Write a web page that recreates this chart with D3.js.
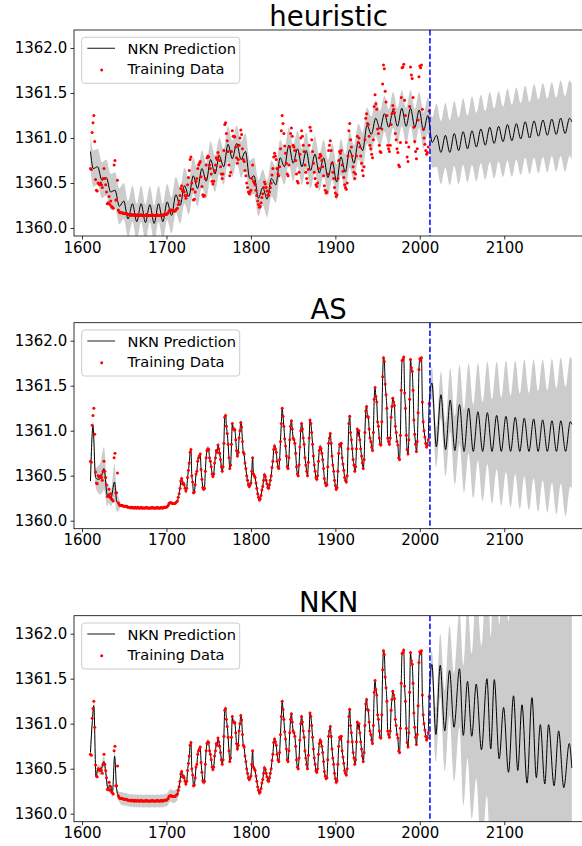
<!DOCTYPE html>
<html lang="en">
<head>
  <meta charset="utf-8">
  <title>solar irradiance: heuristic / AS / NKN</title>
  <script type="text/javascript" src="https://cdnjs.cloudflare.com/ajax/libs/d3/7.8.5/d3.min.js"></script>
  <style>
    body {
      margin: 0px;
      background: #ffffff;
    }
    svg {
      display: block;
    }
  </style>
</head>
<body>
  <script type="text/javascript">
    // training data: one value per year, starting at firstYear
    var firstYear = 1610;
    var tsi = [
      1360.66, 1360.65, 1361.06, 1361.17, 1361.25, 1360.96, 1360.54, 1360.42, 1360.41, 1360.50,
      1360.49, 1360.48, 1360.50, 1360.48, 1360.45, 1360.55, 1360.66, 1360.55, 1360.48, 1360.40,
      1360.27, 1360.28, 1360.35, 1360.26, 1360.30, 1360.24, 1360.23, 1360.22, 1360.70, 1360.75,
      1360.31, 1360.31, 1360.53, 1360.20, 1360.18, 1360.17, 1360.17, 1360.17, 1360.17, 1360.16,
      1360.16, 1360.16, 1360.16, 1360.16, 1360.15, 1360.15, 1360.15, 1360.15, 1360.14, 1360.15,
      1360.15, 1360.14, 1360.14, 1360.15, 1360.14, 1360.14, 1360.15, 1360.14, 1360.14, 1360.14,
      1360.15, 1360.14, 1360.14, 1360.14, 1360.14, 1360.14, 1360.15, 1360.14, 1360.14, 1360.14,
      1360.14, 1360.14, 1360.14, 1360.15, 1360.14, 1360.14, 1360.14, 1360.14, 1360.14, 1360.15,
      1360.14, 1360.14, 1360.14, 1360.14, 1360.15, 1360.14, 1360.14, 1360.15, 1360.15, 1360.15,
      1360.15, 1360.16, 1360.17, 1360.19, 1360.20, 1360.20, 1360.20, 1360.19, 1360.19, 1360.19,
      1360.19, 1360.20, 1360.21, 1360.22, 1360.26, 1360.30, 1360.36, 1360.44, 1360.47, 1360.41,
      1360.42, 1360.40, 1360.36, 1360.33, 1360.36, 1360.48, 1360.56, 1360.64, 1360.76, 1360.79,
      1360.50, 1360.43, 1360.31, 1360.32, 1360.40, 1360.52, 1360.55, 1360.66, 1360.70, 1360.72,
      1360.74, 1360.57, 1360.46, 1360.37, 1360.35, 1360.36, 1360.55, 1360.70, 1360.78, 1360.80,
      1360.79, 1360.70, 1360.66, 1360.60, 1360.52, 1360.49, 1360.52, 1360.64, 1360.70, 1360.78,
      1360.76, 1360.84, 1360.80, 1360.75, 1360.68, 1360.60, 1360.55, 1360.60, 1360.86, 1361.15,
      1361.17, 1361.05, 1360.97, 1360.85, 1360.70, 1360.58, 1360.62, 1360.85, 1361.08, 1361.02,
      1361.02, 1361.01, 1360.90, 1360.78, 1360.72, 1360.76, 1360.92, 1361.00, 1361.09, 1361.04,
      1360.88, 1360.76, 1360.74, 1360.64, 1360.58, 1360.50, 1360.45, 1360.40, 1360.38, 1360.40,
      1360.42, 1360.55, 1360.70, 1360.52, 1360.50, 1360.48, 1360.42, 1360.36, 1360.30, 1360.26,
      1360.23, 1360.24, 1360.28, 1360.34, 1360.38, 1360.45, 1360.51, 1360.49, 1360.45, 1360.41,
      1360.37, 1360.36, 1360.40, 1360.45, 1360.50, 1360.59, 1360.66, 1360.79, 1360.83, 1360.80,
      1360.76, 1360.66, 1360.60, 1360.58, 1360.68, 1360.88, 1361.08, 1361.25, 1361.16, 1361.05,
      1360.91, 1360.83, 1360.72, 1360.60, 1360.58, 1360.70, 1360.90, 1361.05, 1361.11, 1361.02,
      1360.92, 1360.90, 1360.86, 1360.75, 1360.60, 1360.52, 1360.50, 1360.62, 1360.82, 1361.00,
      1361.08, 1361.02, 1360.92, 1360.85, 1360.70, 1360.62, 1360.55, 1360.50, 1360.65, 1360.92,
      1361.12, 1361.08, 1360.98, 1360.85, 1360.72, 1360.62, 1360.55, 1360.48, 1360.46, 1360.50,
      1360.66, 1360.78, 1360.82, 1360.80, 1360.75, 1360.68, 1360.58, 1360.47, 1360.42, 1360.39,
      1360.40, 1360.60, 1360.86, 1360.92, 1360.97, 1360.86, 1360.72, 1360.62, 1360.55, 1360.45,
      1360.39, 1360.35, 1360.37, 1360.55, 1360.75, 1360.85, 1360.83, 1360.86, 1360.70, 1360.63,
      1360.56, 1360.48, 1360.45, 1360.43, 1360.50, 1360.80, 1361.08, 1361.16, 1360.98, 1360.90,
      1360.80, 1360.68, 1360.62, 1360.55, 1360.60, 1360.80, 1361.02, 1360.95, 1361.00, 1360.90,
      1360.80, 1360.72, 1360.64, 1360.58, 1360.68, 1360.98, 1361.22, 1361.27, 1361.16, 1361.15,
      1361.02, 1360.92, 1360.88, 1360.82, 1360.78, 1360.98, 1361.35, 1361.48, 1361.38, 1361.32,
      1361.10, 1361.05, 1360.92, 1360.85, 1360.84, 1361.10, 1361.60, 1361.81, 1361.77, 1361.52,
      1361.40, 1361.25, 1360.92, 1360.88, 1360.85, 1360.92, 1361.15, 1361.27, 1361.36, 1361.32,
      1361.28, 1361.05, 1360.98, 1360.88, 1360.84, 1360.70, 1360.68, 1360.95, 1361.45, 1361.78,
      1361.79, 1361.82, 1361.42, 1361.25, 1360.95, 1360.79, 1360.74, 1360.90, 1361.35, 1361.79,
      1361.70, 1361.66, 1361.45, 1361.12, 1360.96, 1360.85, 1360.77, 1360.88, 1361.20, 1361.68,
      1361.80, 1361.78, 1361.81, 1361.32, 1361.10, 1361.00, 1360.93, 1360.86, 1360.82, 1360.84,
      1360.90, 1361.30
    ];
    var years = d3.range(firstYear, firstYear + tsi.length);
    var trainEnd = 2012;

    var titles = ["heuristic", "AS", "NKN"];
    var legendLabels = ["NKN Prediction", "Training Data"];
    var xTicks = [1600, 1700, 1800, 1900, 2000, 2100];
    var yTicks = [1360.0, 1360.5, 1361.0, 1361.5, 1362.0];

    // heuristic kernel: peaks and troughs of the predicted mean, band = half width
    var heurYears = [1610, 1613.4, 1618.5, 1623.6, 1628.8, 1633.9, 1639.1, 1644.2, 1649.4, 1654.5,
      1659.7, 1664.8, 1670, 1675.1, 1680.3, 1685.4, 1690.6, 1695.7, 1700.8, 1706,
      1711.1, 1716.2, 1721.4, 1726.5, 1731.7, 1736.8, 1742, 1747.1, 1752.3, 1757.4,
      1762.6, 1767.7, 1772.9, 1778, 1783.2, 1788.3, 1793.5, 1798.6, 1803.7, 1808.9,
      1814, 1819.2, 1824.3, 1829.5, 1834.6, 1839.7, 1844.9, 1850, 1855.2, 1860.3,
      1865.5, 1870.6, 1875.8, 1880.9, 1886.1, 1891.2, 1896.4, 1901.5, 1906.6, 1911.8,
      1916.9, 1922, 1927.2, 1932.3, 1937.5, 1942.6, 1947.8, 1952.9, 1958.1, 1963.2,
      1968.4, 1973.5, 1978.7, 1983.8, 1989, 1994.1, 1999.3, 2004.4, 2009.5, 2014.7,
      2019.8, 2025, 2030.3, 2035.5, 2040.8, 2046, 2051.3, 2056.5, 2061.8, 2067,
      2072.3, 2077.5, 2082.8, 2088, 2093.3, 2098.5, 2103.8, 2109, 2114.3, 2119.5,
      2124.8, 2130, 2135.3, 2140.5, 2145.8, 2151, 2156.3, 2161.5, 2166.8, 2172,
      2177.3, 2180];
    var heurMean = [1360.85, 1360.66, 1360.68, 1360.53, 1360.56, 1360.40, 1360.42, 1360.24, 1360.30, 1360.10,
      1360.27, 1360.07, 1360.27, 1360.06, 1360.26, 1360.05, 1360.27, 1360.07, 1360.29, 1360.14,
      1360.37, 1360.25, 1360.47, 1360.35, 1360.58, 1360.44, 1360.66, 1360.52, 1360.76, 1360.60,
      1360.80, 1360.68, 1360.93, 1360.77, 1360.94, 1360.76, 1360.85, 1360.55, 1360.58, 1360.33,
      1360.45, 1360.32, 1360.55, 1360.48, 1360.78, 1360.68, 1360.92, 1360.72, 1360.88, 1360.68,
      1360.86, 1360.64, 1360.82, 1360.61, 1360.78, 1360.56, 1360.74, 1360.51, 1360.79, 1360.62,
      1360.87, 1360.72, 1360.96, 1360.86, 1361.14, 1361.04, 1361.22, 1361.10, 1361.27, 1361.12,
      1361.31, 1361.13, 1361.33, 1361.13, 1361.33, 1361.12, 1361.31, 1361.08, 1361.25, 1360.95,
      1361.03, 1360.84, 1361.03, 1360.84, 1361.05, 1360.86, 1361.07, 1360.88, 1361.08, 1360.90,
      1361.10, 1360.92, 1361.12, 1360.94, 1361.13, 1360.96, 1361.15, 1360.97, 1361.16, 1360.99,
      1361.18, 1361.00, 1361.19, 1361.02, 1361.20, 1361.03, 1361.21, 1361.04, 1361.22, 1361.05,
      1361.22, 1361.18];
    var heurTrainBand = 0.2;
    var heurForeBand = [0.28,
      0.35, 0.35, 0.36, 0.36, 0.36, 0.37, 0.37, 0.37, 0.38, 0.38,
      0.38, 0.38, 0.39, 0.39, 0.39, 0.39, 0.40, 0.40, 0.40, 0.40,
      0.40, 0.40, 0.41, 0.41, 0.41, 0.41, 0.41, 0.41, 0.42, 0.42,
      0.42, 0.42];

    // AS and NKN follow the data; before 1646 their fit is smoother than the data
    var eraYears = [1646, 1716];
    var asEraBand = [0.012, 0.035];
    var nknEraBand = [0.07, 0.035];

    var asEarlyYears = [1610, 1613, 1616, 1619, 1622, 1626, 1630, 1632, 1634, 1638.5, 1641, 1644];
    var asEarlyMean = [1360.44, 1361.05, 1360.48, 1360.46, 1360.47, 1360.58, 1360.28, 1360.30, 1360.24, 1360.43, 1360.22, 1360.18];
    var asEarlyBand = [0.12, 0.06, 0.10, 0.15, 0.18, 0.24, 0.12, 0.10, 0.08, 0.20, 0.12, 0.06];

    var asForeYears = [2014.3, 2019.6, 2025, 2030.5, 2036, 2041.5, 2047, 2052.4, 2057.8, 2063.3,
      2068.8, 2074.4, 2080, 2085.5, 2091, 2096.5, 2102, 2107.5, 2113, 2118.4,
      2123.7, 2129.2, 2134.8, 2140.1, 2145.5, 2151, 2156.5, 2161.8, 2167, 2172.6,
      2178.2, 2180];
    var asForeMean = [1361.53, 1360.82, 1361.40, 1360.79, 1361.34, 1360.78, 1361.29, 1360.77, 1361.25, 1360.77,
      1361.21, 1360.77, 1361.20, 1360.77, 1361.17, 1360.77, 1361.16, 1360.77, 1361.15, 1360.77,
      1361.14, 1360.77, 1361.13, 1360.77, 1361.12, 1360.77, 1361.11, 1360.77, 1361.11, 1360.77,
      1361.10, 1361.07];
    var asForeBand = [0.18, 0.22, 0.26, 0.30, 0.35, 0.38, 0.44, 0.46, 0.50, 0.52,
      0.54, 0.55, 0.57, 0.58, 0.60, 0.60, 0.62, 0.62, 0.63, 0.64,
      0.65, 0.65, 0.66, 0.67, 0.67, 0.68, 0.69, 0.70, 0.70, 0.72,
      0.72, 0.72];

    var nknEarlyYears = [1610, 1612, 1614, 1616.5, 1619, 1622, 1626, 1628, 1630.6, 1633, 1636, 1638.6, 1641, 1643, 1645];
    var nknEarlyMean = [1360.68, 1361.00, 1361.20, 1360.42, 1360.50, 1360.48, 1360.58, 1360.47, 1360.28, 1360.32,
      1360.23, 1360.64, 1360.27, 1360.20, 1360.18];
    var nknEarlyBand = [0.05, 0.05, 0.05, 0.05, 0.05, 0.05, 0.06, 0.05, 0.05, 0.05, 0.05, 0.08, 0.05, 0.05, 0.06];

    var nknForeYears = [2014.3, 2019, 2024.2, 2029.5, 2035.2, 2040.5, 2047, 2051.5, 2056.5, 2061.5,
      2066.8, 2073, 2079.5, 2084, 2088.2, 2094, 2099.2, 2105, 2111, 2116,
      2121, 2127, 2132.8, 2138, 2142.7, 2148, 2152.5, 2159, 2164.4, 2170.5,
      2177, 2180];
    var nknForeMean = [1361.66, 1360.88, 1361.65, 1360.92, 1361.59, 1360.96, 1361.61, 1360.87, 1361.47, 1360.86,
      1361.44, 1360.71, 1361.50, 1360.72, 1361.49, 1360.61, 1361.18, 1360.46, 1361.31, 1360.48,
      1361.21, 1360.34, 1361.29, 1360.40, 1360.99, 1360.33, 1360.99, 1360.31, 1360.92, 1360.29,
      1360.78, 1360.51];
    var nknForeBand = [0.15, 0.30, 0.35, 0.45, 0.50, 0.60, 0.65, 0.78, 0.85, 0.92,
      1.05, 1.15, 1.30, 1.25, 1.60, 1.50, 1.60, 1.68, 1.80, 1.72,
      1.90, 1.90, 2.00, 2.10, 2.30, 2.40, 2.60, 2.70, 2.80, 2.90,
      3.00, 3.10];

    //////////// BUILD PREDICTION POINTS

    function knots(ys, ms, bs) {
      return ys.map(function (yr, i) { return {x: yr, m: ms[i], b: bs[i]}; });
    }

    function eraBand(list, yr) {
      var b = list[0];
      eraYears.forEach(function (e, k) { if (yr >= e) b = list[k]; });
      return b;
    }

    // early knots, then the data itself from 1646, then the forecast
    function fitPoints(early, eraList, fore) {
      var mid = [];
      years.forEach(function (yr, i) {
        if (yr >= eraYears[0]) mid.push({x: yr, m: tsi[i], b: eraBand(eraList, yr)});
      });
      return early.concat(mid, fore);
    }

    var j = 0;
    var heurPoints = heurYears.map(function (yr, i) {
      var b = yr < trainEnd ? heurTrainBand : heurForeBand[j++];
      return {x: yr, m: heurMean[i], b: b};
    });
    var asPoints = fitPoints(knots(asEarlyYears, asEarlyMean, asEarlyBand), asEraBand,
      knots(asForeYears, asForeMean, asForeBand));
    var nknPoints = fitPoints(knots(nknEarlyYears, nknEarlyMean, nknEarlyBand), nknEraBand,
      knots(nknForeYears, nknForeMean, nknForeBand));

    var panels = [
      {title: titles[0], pts: heurPoints, legendColor: "#3a3a3a", legendWidth: 1.2},
      {title: titles[1], pts: asPoints, legendColor: "#8f8f8f", legendWidth: 2},
      {title: titles[2], pts: nknPoints, legendColor: "#3a3a3a", legendWidth: 1.2}
    ];

    //////////// LAYOUT

    var width = 582;
    var height = 846;
    var axLeft = 74;
    var axRight = 583.3;
    var axHeight = 206;
    var panelTops = [30, 322.7, 615.7];
    var font = "'DejaVu Sans', sans-serif";

    var x = d3.scaleLinear().domain([1590.5, 2193.6]).range([axLeft, axRight]);

    var svg = d3.select("body").append("svg")
      .attr("width", width)
      .attr("height", height);

    panels.forEach(function (p, k) {
      var top = panelTops[k];
      var y = d3.scaleLinear().domain([1359.911, 1362.2]).range([top + axHeight, top]);
      var g = svg.append("g");

      var clipId = "clip" + k;
      g.append("clipPath").attr("id", clipId).append("rect")
        .attr("x", axLeft).attr("y", top)
        .attr("width", axRight - axLeft).attr("height", axHeight);

      var plot = g.append("g").attr("clip-path", "url(#" + clipId + ")");

      // uncertainty band
      plot.append("path").datum(p.pts)
        .attr("fill", "#cccccc")
        .attr("d", d3.area().curve(d3.curveMonotoneX)
          .x(function (d) { return x(d.x); })
          .y0(function (d) { return y(d.m - d.b); })
          .y1(function (d) { return y(d.m + d.b); }));

      // predicted mean
      plot.append("path").datum(p.pts)
        .attr("fill", "none")
        .attr("stroke", "#000")
        .attr("stroke-width", 1)
        .attr("d", d3.line().curve(d3.curveMonotoneX)
          .x(function (d) { return x(d.x); })
          .y(function (d) { return y(d.m); }));

      // training data
      plot.selectAll("circle").data(years).enter().append("circle")
        .attr("cx", function (d) { return x(d); })
        .attr("cy", function (d, i) { return y(tsi[i]); })
        .attr("r", 1.5)
        .attr("fill", "#ff0000");

      // end of training
      g.append("line")
        .attr("x1", x(trainEnd)).attr("x2", x(trainEnd))
        .attr("y1", top).attr("y2", top + axHeight)
        .attr("stroke", "#0000ff")
        .attr("stroke-width", 1.5)
        .attr("stroke-dasharray", "5.5,2.4");

      // axes
      var ax = g.append("g")
        .attr("transform", "translate(0," + (top + axHeight) + ")")
        .call(d3.axisBottom(x).tickValues(xTicks).tickFormat(d3.format("d"))
          .tickSize(3.5).tickPadding(2.6));
      var ay = g.append("g")
        .attr("transform", "translate(" + axLeft + ",0)")
        .call(d3.axisLeft(y).tickValues(yTicks).tickFormat(d3.format(".1f"))
          .tickSize(3.5).tickPadding(3.3));
      [ax, ay].forEach(function (a) {
        a.select(".domain").remove();
        a.attr("font-family", font).attr("font-size", 15);
        a.selectAll("line").attr("stroke", "#000").attr("stroke-width", 0.8);
        a.selectAll("text").attr("fill", "#000");
      });

      // spines
      g.append("rect")
        .attr("x", axLeft).attr("y", top)
        .attr("width", axRight - axLeft).attr("height", axHeight)
        .attr("fill", "none")
        .attr("stroke", "#000")
        .attr("stroke-width", 0.8);

      // legend
      var lg = g.append("g")
        .attr("transform", "translate(" + (axLeft + 7.7) + "," + (top + 7.3) + ")")
        .attr("font-family", font)
        .attr("font-size", 14.6);
      lg.append("rect")
        .attr("width", 158).attr("height", 46).attr("rx", 3)
        .attr("fill", "#ffffff").attr("fill-opacity", 0.8)
        .attr("stroke", "#cccccc").attr("stroke-width", 1);
      lg.append("line")
        .attr("x1", 5.6).attr("x2", 33.3).attr("y1", 11).attr("y2", 11)
        .attr("stroke", p.legendColor).attr("stroke-width", p.legendWidth);
      lg.append("text").attr("x", 45.8).attr("y", 16.6).text(legendLabels[0]);
      lg.append("circle").attr("cx", 20).attr("cy", 32.7).attr("r", 1.5).attr("fill", "#ff0000");
      lg.append("text").attr("x", 45.8).attr("y", 37).text(legendLabels[1]);

      // title
      g.append("text")
        .attr("x", (axLeft + axRight) / 2)
        .attr("y", top - 4)
        .attr("text-anchor", "middle")
        .attr("font-family", font)
        .attr("font-size", 27.5)
        .text(p.title);
    });
  </script>
</body>
</html>
